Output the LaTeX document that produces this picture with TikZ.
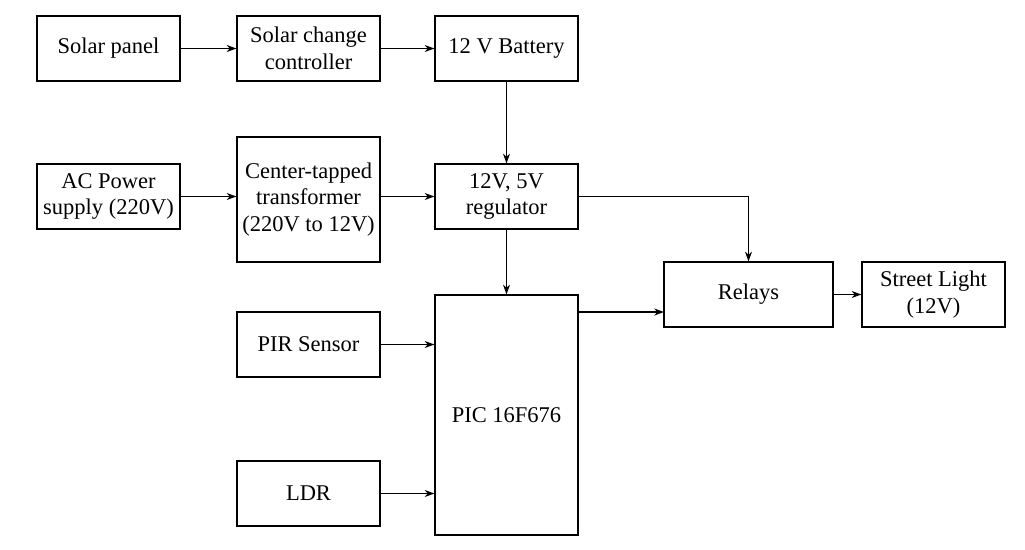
\documentclass[tikz,border=0pt]{standalone}
\usepackage{fontspec}
\setmainfont{Liberation Serif}
\usetikzlibrary{arrows.meta}
\begin{document}
\begin{tikzpicture}[x=0.025cm, y=-0.025cm,
  block/.style={draw, thick, minimum width=143*0.025cm, minimum height=65*0.025cm,
    align=center, inner sep=1pt, font=\rmfamily\fontsize{16}{19}\selectfont},
  link/.style={thick, -{Stealth[length=7pt, width=5pt]}}]
  \useasboundingbox (0,0) rectangle (1025,549);

  % Top row
  \node[block] (panel) at (108.5, 48.5) {Solar panel};
  \node[block] (ctrl) at (308.5, 48.5) {Solar change\\controller};
  \node[block] (batt) at (506.5, 48.5) {12 V Battery};
  % Mains
  \node[block] (ac) at (108.5, 196.5) {AC Power\\supply (220V)};
  \node[block, minimum height=125*0.025cm] (trafo) at (308.5, 199.5) {Center-tapped\\transformer\\(220V to 12V)};
  \node[block] (reg) at (506.5, 196.5) {12V, 5V\\regulator};
  % Sensors and controller
  \node[block] (pir) at (308.5, 344.5) {PIR Sensor};
  \node[block] (ldr) at (308.5, 493.5) {LDR};
  \node[block, minimum height=240*0.025cm] (pic) at (506.5, 415) {PIC 16F676};
  % Outputs
  \node[block, minimum width=169*0.025cm] (relay) at (748.5, 294.5) {Relays};
  \node[block] (lamp) at (933.5, 294.5) {Street Light\\(12V)};
  \coordinate (relayin) at (664, 312);

  \draw[link] (panel) -- (ctrl);
  \draw[link] (ctrl) -- (batt);
  \draw[link] (batt) -- (reg);
  \draw[link] (ac) -- (trafo.west |- ac);
  \draw[link] (trafo.east |- reg) -- (reg);
  \draw[link] (reg) -- (pic);
  \draw[link] (reg.east) -| (relay.north);
  \draw[link] (pic.east |- relayin) -- (relayin);
  \draw[link] (relay) -- (lamp);
  \draw[link] (pir) -- (pic.west |- pir);
  \draw[link] (ldr) -- (pic.west |- ldr);
\end{tikzpicture}
\end{document}
